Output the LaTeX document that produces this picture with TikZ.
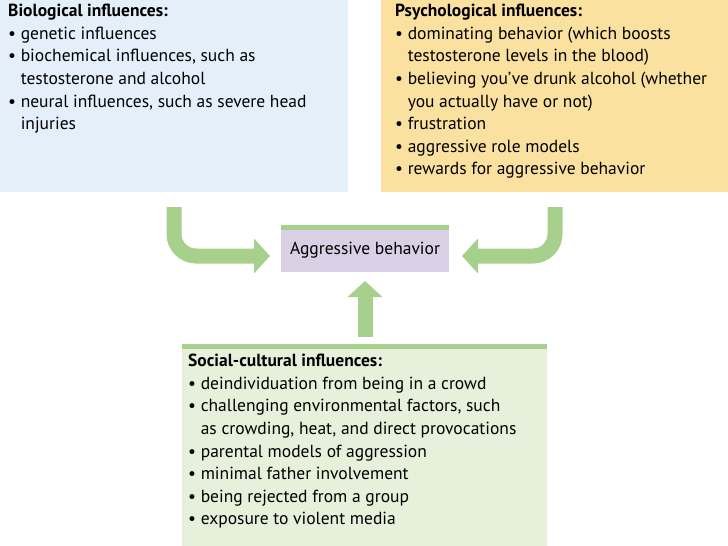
\documentclass[tikz,border=0pt]{standalone}
\usepackage{fontspec}
\setmainfont{PT Sans}
\usetikzlibrary{arrows.meta}
\definecolor{bluebg}{HTML}{E4EFFA}
\definecolor{yelbg}{HTML}{FBE1A0}
\definecolor{grnbg}{HTML}{E7F0DB}
\definecolor{grnbar}{HTML}{A8D08D}
\definecolor{purbg}{HTML}{D9D0E6}
\tikzset{
  infobox/.style={anchor=north west,align=left,inner sep=0pt,font=\fontsize{17.5}{22.6}\selectfont,text=black},
  flow/.style={grnbar,line width=15pt,-{Triangle[width=34pt,length=16pt]}},
}
\begin{document}
\begin{tikzpicture}[x=1pt,y=-1pt]
\useasboundingbox (0,0) rectangle (728,546);
\fill[bluebg] (0,0) rectangle (348,192);
\fill[yelbg] (381,0) rectangle (728,192);
\fill[purbg] (281,228) rectangle (449,272);
\fill[grnbar] (281,225) rectangle (449,230);
\fill[grnbg] (182,346) rectangle (547,546);
\fill[grnbar] (182,344) rectangle (547,349);
\node[infobox] (bio) at (8,4) {\textbf{Biological influences:}\\
• genetic influences\\
• biochemical influences, such as\\
\hphantom{• }testosterone and alcohol\\
• neural influences, such as severe head\\
\hphantom{• }injuries};
\node[infobox] (psy) at (395,4) {\textbf{Psychological influences:}\\
• dominating behavior (which boosts\\
\hphantom{• }testosterone levels in the blood)\\
• believing you've drunk alcohol (whether\\
\hphantom{• }you actually have or not)\\
• frustration\\
• aggressive role models\\
• rewards for aggressive behavior};
\node[infobox] (soc) at (188,354) {\textbf{Social-cultural influences:}\\
• deindividuation from being in a crowd\\
• challenging environmental factors, such\\
\hphantom{• }as crowding, heat, and direct provocations\\
• parental models of aggression\\
• minimal father involvement\\
• being rejected from a group\\
• exposure to violent media};
\node[font=\fontsize{17.5}{20}\selectfont] (agg) at (365,250) {Aggressive behavior};
\coordinate (l0) at (174,207);
\coordinate (r0) at (555,207);
\coordinate (u0) at (365,337);
\draw[flow,rounded corners=22pt] (l0) |- (270,256);
\draw[flow,rounded corners=22pt] (r0) |- (462,256);
\draw[flow] (u0) -- (365,281);
\end{tikzpicture}
\end{document}
